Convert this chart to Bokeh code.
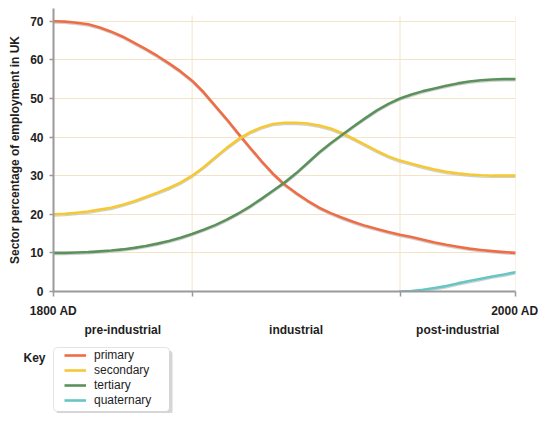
from bokeh.plotting import figure
from bokeh.layouts import column, row
from bokeh.models import (Range1d, FixedTicker, LinearAxis, Legend, LegendItem,
                          Label, BoxAnnotation, ColumnDataSource)
from bokeh.transform import dodge
from bokeh.embed import file_html
from bokeh.resources import INLINE

# ---- data ----
years = [1800, 1805, 1810, 1815, 1820, 1825, 1830, 1835, 1840, 1845, 1850,
         1855, 1860, 1865, 1870, 1875, 1880, 1885, 1890, 1895, 1900,
         1905, 1910, 1915, 1920, 1925, 1930, 1935, 1940, 1945, 1950,
         1955, 1960, 1965, 1970, 1975, 1980, 1985, 1990, 1995, 2000]
primary = [70.0, 69.9, 69.6, 69.2, 68.4, 67.3, 66.0, 64.4, 62.8, 61.0, 59.1,
           57.0, 54.6, 51.6, 48.1, 44.6, 40.9, 37.3, 33.8, 30.5, 27.7,
           25.5, 23.5, 21.7, 20.3, 19.1, 18.0, 17.0, 16.2, 15.4, 14.7,
           14.1, 13.4, 12.7, 12.1, 11.6, 11.1, 10.75, 10.45, 10.2, 10.0]
secondary = [20.0, 20.1, 20.4, 20.7, 21.2, 21.7, 22.5, 23.4, 24.5, 25.6, 26.8,
             28.2, 30.0, 32.2, 34.7, 37.2, 39.4, 41.2, 42.5, 43.4, 43.7,
             43.7, 43.5, 43.0, 42.2, 41.0, 39.5, 38.0, 36.4, 35.0, 33.9,
             33.1, 32.3, 31.6, 31.0, 30.6, 30.3, 30.1, 30.0, 30.0, 30.0]
tertiary = [10.0, 10.0, 10.1, 10.2, 10.4, 10.6, 10.9, 11.3, 11.8, 12.4, 13.1,
            13.9, 14.9, 16.0, 17.2, 18.6, 20.2, 22.0, 24.0, 26.1, 28.2,
            30.6, 33.3, 36.0, 38.4, 40.6, 42.8, 44.9, 46.9, 48.6, 50.0,
            51.0, 51.9, 52.6, 53.3, 53.9, 54.4, 54.7, 54.9, 55.0, 55.0]
quaternary_years = [1950, 1955, 1960, 1965, 1970, 1975, 1980, 1985, 1990, 1995, 2000]
quaternary = [0.0, 0.1, 0.45, 0.9, 1.4, 2.1, 2.7, 3.3, 3.9, 4.4, 5.0]

y_ticks = [0, 10, 20, 30, 40, 50, 60, 70]
x_ticks = [1800, 1860, 1950, 2000]
x_tick_labels = {1800: "1800 AD", 1860: "", 1950: "", 2000: "2000 AD"}
era_bounds = [1860, 1950, 2000]
era_positions = [1830, 1905, 1975]
era_labels = ["pre-industrial", "industrial", "post-industrial"]
series_names = ["primary", "secondary", "tertiary", "quaternary"]
series_colors = ["#ee6d45", "#f5c934", "#5b925c", "#66c6c6"]

FONT = "Liberation Sans"
TEXT = "#1e1e1e"
AXIS = "#9a9a9a"
GRID = "#f3e4c8"
W = 538
LEFT = 53
FW = 462

# ================= main chart =================
p = figure(frame_width=FW, frame_height=283,
           min_border_left=LEFT, min_border_right=W - LEFT - FW,
           min_border_top=8, min_border_bottom=49,
           x_range=Range1d(1800, 2000), y_range=Range1d(0, 73.3),
           output_backend="svg", toolbar_location=None)
p.outline_line_color = None
p.background_fill_color = "white"

# grids
p.xgrid.visible = False
p.ygrid.ticker = FixedTicker(ticks=y_ticks[1:])
p.ygrid.grid_line_color = GRID
p.ygrid.grid_line_width = 1
p.segment(x0=era_bounds, y0=[0] * len(era_bounds), x1=era_bounds,
          y1=[71.5] * len(era_bounds), line_color=GRID, line_width=1)

# x axis (main)
xa = p.xaxis[0]
xa.ticker = FixedTicker(ticks=x_ticks)
xa.major_label_overrides = x_tick_labels
xa.minor_tick_line_color = None
xa.major_tick_out = 5
xa.major_tick_in = 0
xa.major_tick_line_color = AXIS
xa.major_tick_line_width = 1.5
xa.axis_line_color = AXIS
xa.axis_line_width = 2
xa.major_label_standoff = 7
xa.major_label_text_font = FONT
xa.major_label_text_font_size = "12px"
xa.major_label_text_font_style = "bold"
xa.major_label_text_color = TEXT

# era labels axis
era_axis = LinearAxis(ticker=FixedTicker(ticks=era_positions),
                      major_label_overrides=dict(zip(era_positions, era_labels)))
era_axis.axis_line_color = None
era_axis.major_tick_line_color = None
era_axis.minor_tick_line_color = None
era_axis.major_tick_out = 0
era_axis.major_tick_in = 0
era_axis.major_label_standoff = 2
era_axis.major_label_text_font = FONT
era_axis.major_label_text_font_size = "12px"
era_axis.major_label_text_font_style = "bold"
era_axis.major_label_text_color = TEXT
p.add_layout(era_axis, "below")

# y axis
ya = p.yaxis[0]
ya.ticker = FixedTicker(ticks=y_ticks)
ya.minor_tick_line_color = None
ya.major_tick_out = 4
ya.major_tick_in = 0
ya.major_tick_line_color = AXIS
ya.major_tick_line_width = 1.5
ya.axis_line_color = AXIS
ya.axis_line_width = 2
ya.major_label_standoff = 6
ya.major_label_text_font = FONT
ya.major_label_text_font_size = "12px"
ya.major_label_text_font_style = "bold"
ya.major_label_text_color = TEXT
ya.axis_label = "Sector percentage of employment in UK"
ya.axis_label_text_font = FONT
ya.axis_label_text_font_size = "12px"
ya.axis_label_text_font_style = "bold"
ya.axis_label_text_color = TEXT
ya.axis_label_standoff = 5

# lines
src = ColumnDataSource(dict(year=years, primary=primary,
                            secondary=secondary, tertiary=tertiary))
qsrc = ColumnDataSource(dict(year=quaternary_years, quaternary=quaternary))

for name in series_names:
    s = qsrc if name == "quaternary" else src
    p.line("year", dodge(name, -0.45), source=s, line_color="#c4c4c4",
           line_width=1.4, line_alpha=0.8, line_join="round")
for name, color in zip(series_names, series_colors):
    s = qsrc if name == "quaternary" else src
    p.line("year", name, source=s, line_color=color, line_width=2.6,
           line_join="round", line_cap="round")

# ================= key panel =================
KH = 73
k = figure(width=W, height=KH, min_border_left=0, min_border_right=0,
           min_border_top=0, min_border_bottom=0,
           x_range=Range1d(0, 1), y_range=Range1d(0, 1),
           x_axis_type=None, y_axis_type=None,
           output_backend="svg", toolbar_location=None)
k.outline_line_color = None
k.background_fill_color = "white"
k.border_fill_color = "white"

if "frame_align" in k.properties():
    k.frame_align = False
    p.frame_align = False

key_renderers = []
for name, color in zip(series_names, series_colors):
    s = qsrc if name == "quaternary" else src
    key_renderers.append(k.line("year", name, source=s, line_color=color,
                                line_width=2.6))

SCR = dict(left_units="screen", right_units="screen",
           top_units="screen", bottom_units="screen")
shadow = BoxAnnotation(left=56, right=172, bottom=-1, top=63,
                       fill_color="#cfcfcf", fill_alpha=0.85, line_color=None,
                       **SCR)
box = BoxAnnotation(left=53, right=169, bottom=2, top=66,
                    fill_color="white", fill_alpha=1,
                    line_color="#a6a6a6", line_width=1, **SCR)
if "border_radius" in BoxAnnotation.properties():
    shadow.border_radius = 4
    box.border_radius = 4
k.add_layout(shadow)
k.add_layout(box)

legend = Legend(items=[LegendItem(label=n, renderers=[r])
                       for n, r in zip(series_names, key_renderers)],
                location=(64, 6))
legend.label_text_font = FONT
legend.label_text_font_size = "12px"
legend.label_text_color = TEXT
legend.border_line_color = None
legend.background_fill_alpha = 0
legend.glyph_width = 22
legend.glyph_height = 14
legend.label_height = 14
legend.spacing = 1
legend.padding = 0
legend.margin = 0
legend.label_standoff = 8
k.add_layout(legend)

k.add_layout(Label(x=23, y=56, x_units="screen", y_units="screen",
                   text="Key", text_font=FONT,
                   text_font_size="12px", text_font_style="bold",
                   text_color=TEXT, text_baseline="middle",
                   text_align="left"))

layout = column(p, row(k, spacing=0), spacing=0)
open("out.html", "w").write(file_html(layout, INLINE))
